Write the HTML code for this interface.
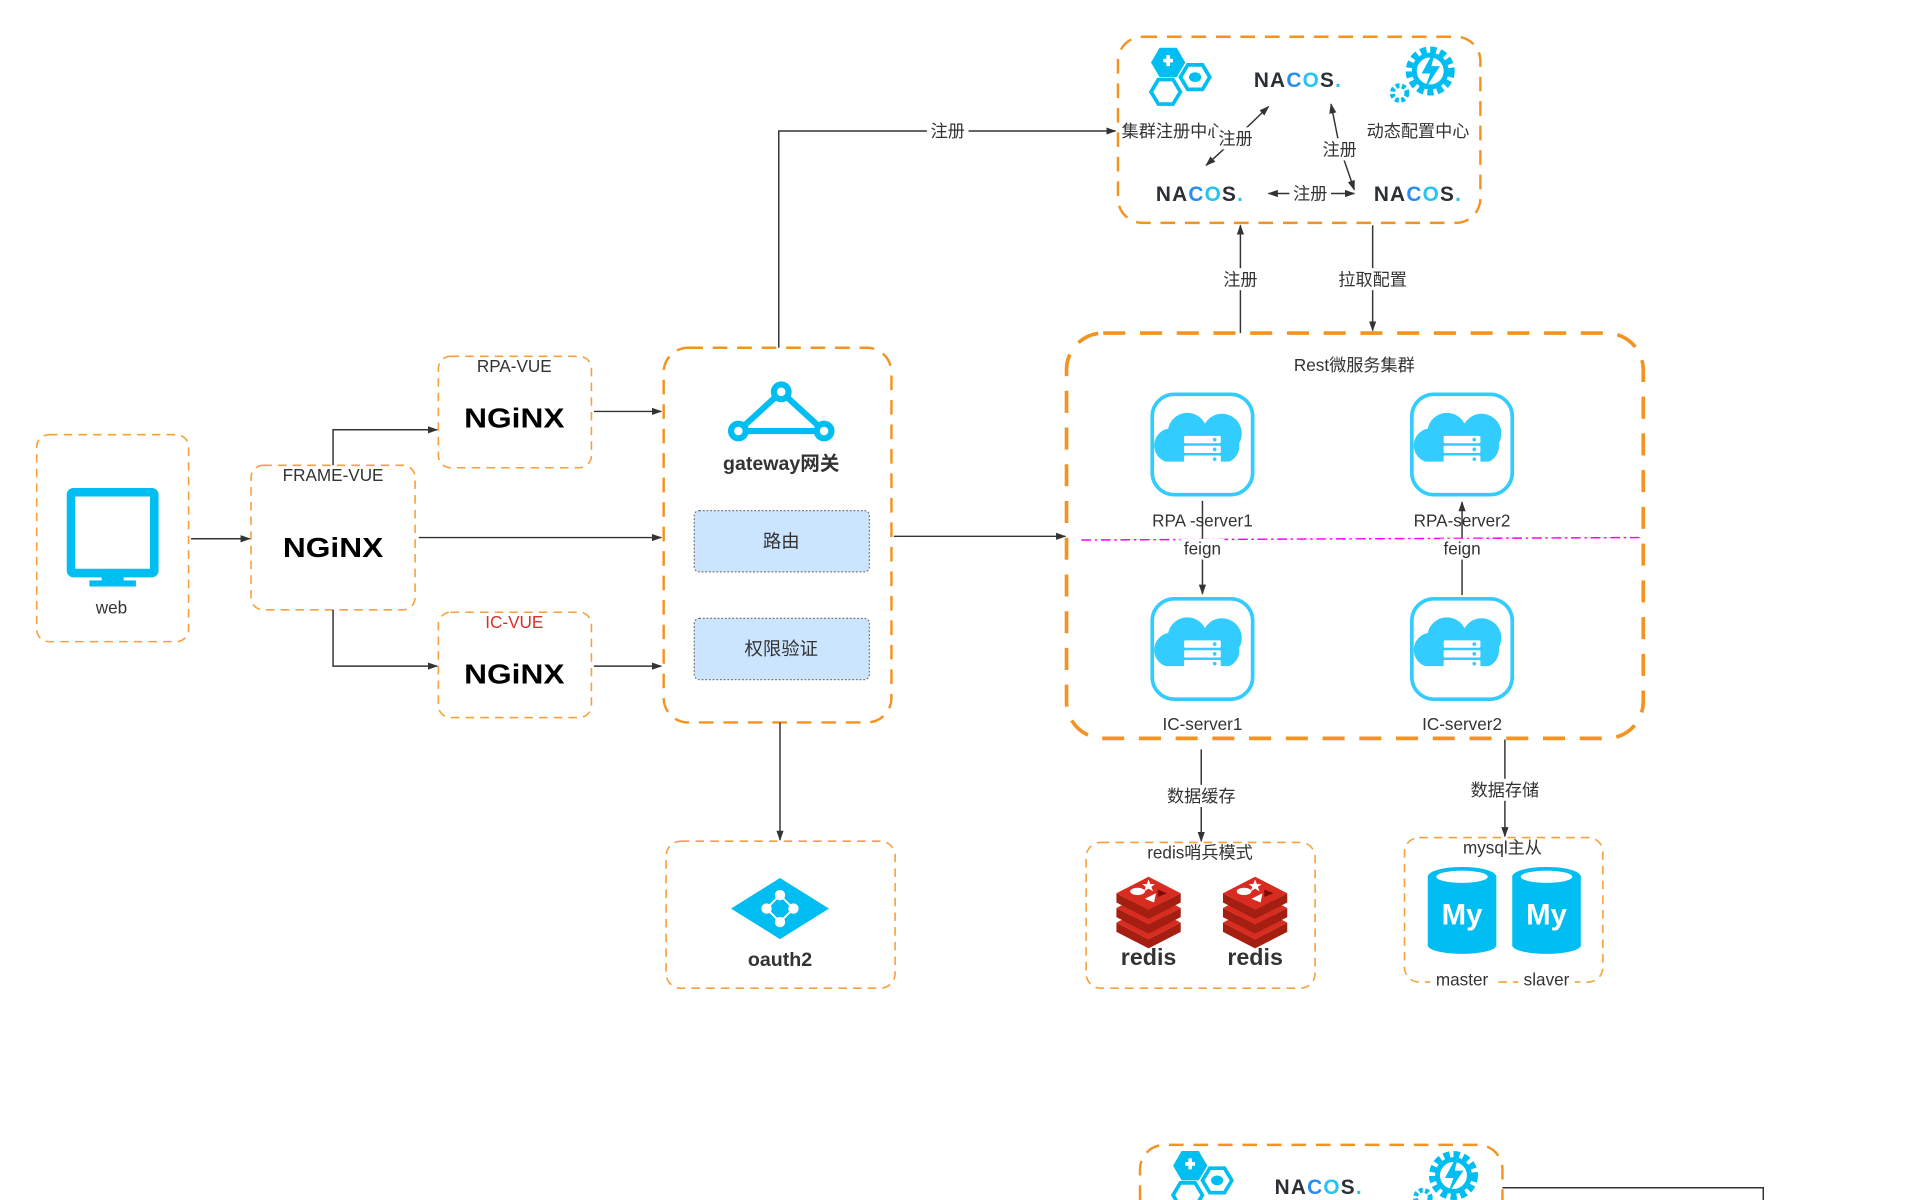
<!DOCTYPE html>
<html><head><meta charset="utf-8"><style>
html,body{margin:0;padding:0;background:#fff;width:1920px;height:1200px;overflow:hidden;}
svg{display:block}
text{font-family:"Liberation Sans","Noto Sans CJK SC",sans-serif;fill:#333;}
</style></head><body>
<svg width="1920" height="1200" viewBox="0 0 1568 980" preserveAspectRatio="none" xmlns="http://www.w3.org/2000/svg">
<defs>
<clipPath id="cl"><rect x="0" y="0" width="1568" height="980"/></clipPath>
<marker id="a" viewBox="0 0 10 10" refX="9" refY="5" markerWidth="7" markerHeight="7" orient="auto-start-reverse"><path d="M0,1.5 L10,5 L0,8.5 Z" fill="#333"/></marker>
<g id="srv">
 <rect x="-41" y="-41" width="82" height="82" rx="18" fill="#fff" stroke="#33ccff" stroke-width="3"/>
 <path d="M-30,14 a14,14 0 0 1 2,-27 a16,16 0 0 1 30,-4 a14,14 0 0 1 28,16 a14,14 0 0 1 -8,15 Z" fill="#33ccff"/>
 <g fill="#fff"><rect x="-15" y="-7" width="30" height="6" rx="1"/><rect x="-15" y="1" width="30" height="6" rx="1"/><rect x="-15" y="9" width="30" height="6" rx="1"/></g>
 <g fill="#33ccff"><circle cx="10" cy="-4" r="1.5"/><circle cx="10" cy="4" r="1.5"/><circle cx="10" cy="12" r="1.5"/></g>
</g>
<g id="nacos"><text x="0" y="0" text-anchor="middle" font-size="17" font-weight="bold" letter-spacing="1" style="fill:#2b2f36">NA<tspan style="fill:#2a8bf0">C</tspan><tspan style="fill:#27c3f3">O</tspan>S<tspan style="fill:#27c3f3">.</tspan></text></g>
<g id="hex">
 <polygon points="-20,-14 -13,-26 1,-26 8,-14 1,-2 -13,-2" fill="#00bdf2"/>
 <rect x="-10" y="-17" width="8" height="3" fill="#fff"/><rect x="-7.5" y="-20" width="3" height="9" fill="#fff"/>
 <polygon points="4,-2 10,-12 22,-12 28,-2 22,8 10,8" fill="#fff" stroke="#00bdf2" stroke-width="3"/>
 <ellipse cx="16" cy="-2" rx="5" ry="4" fill="#00bdf2"/>
 <polygon points="-20,10 -14,0 -2,0 4,10 -2,20 -14,20" fill="#fff" stroke="#00bdf2" stroke-width="3"/>
</g>
<g id="gear">
 <circle cx="5" cy="-6" r="17" fill="none" stroke="#00bdf2" stroke-width="6" stroke-dasharray="5 3"/>
 <circle cx="5" cy="-6" r="13" fill="none" stroke="#00bdf2" stroke-width="4"/>
 <path d="M10,-26 L-2,-4 L5,-4 L0,10 L13,-10 L6,-10 Z" fill="#00bdf2"/>
 <circle cx="-20" cy="12" r="6" fill="none" stroke="#00bdf2" stroke-width="4" stroke-dasharray="3 2"/>
</g>
<g id="redis">
 <path d="M-35,22 L0,40 L35,22 L35,32 L0,50 L-35,32 Z" fill="#a41e11"/>
 <path d="M-35,22 L0,4 L35,22 L0,40 Z" fill="#d82c20"/>
 <path d="M-35,6 L0,24 L35,6 L35,16 L0,34 L-35,16 Z" fill="#a41e11"/>
 <path d="M-35,6 L0,-12 L35,6 L0,24 Z" fill="#d82c20"/>
 <path d="M-35,-10 L0,8 L35,-10 L35,0 L0,18 L-35,0 Z" fill="#a41e11"/>
 <path d="M-35,-10 L0,-28 L35,-10 L0,8 Z" fill="#d82c20"/>
 <ellipse cx="-12" cy="-12" rx="8" ry="4" fill="#fff"/>
 <polygon points="0,-25 2,-20 7,-20 3,-17 5,-12 0,-15 -5,-12 -3,-17 -7,-20 -2,-20" fill="#fff"/>
 <polygon points="10,-14 20,-10 10,-6" fill="#7a0c05"/>
 <polygon points="-4,-4 8,-10 6,0" fill="#fff"/>
</g>
<g id="my">
 <rect x="-28" y="-27" width="56" height="56" fill="#00bdf2"/>
 <ellipse cx="0" cy="29" rx="28" ry="7" fill="#00bdf2"/>
 <ellipse cx="0" cy="-27" rx="28" ry="8" fill="#00bdf2"/>
 <ellipse cx="0" cy="-27" rx="21" ry="5" fill="#fff"/>
 <text x="0" y="12" text-anchor="middle" font-size="24" font-weight="bold" style="fill:#fff">My</text>
</g>
</defs>
<g clip-path="url(#cl)">
<g fill="none" stroke="#f7a03c" stroke-width="1.3" stroke-dasharray="7 5">
 <rect x="30" y="355" width="124" height="169" rx="10"/>
 <rect x="205" y="380" width="134" height="118" rx="10"/>
 <rect x="358" y="291" width="125" height="91" rx="10"/>
 <rect x="358" y="500" width="125" height="86" rx="10"/>
 <rect x="544" y="687" width="187" height="120" rx="12"/>
 <rect x="887" y="688" width="187" height="119" rx="12"/>
 <rect x="1147" y="684" width="162" height="118" rx="12"/>
</g>
<g fill="none" stroke="#f39422" stroke-width="2" stroke-dasharray="12 8">
 <rect x="542" y="284" width="186" height="306" rx="20"/>
 <rect x="913" y="30" width="296" height="152" rx="20"/>
 <path d="M931,980 V955 A20,20 0 0 1 951,935 H1207 A20,20 0 0 1 1227,955 V980"/>
</g>
<rect x="871" y="272" width="471" height="331" rx="30" fill="none" stroke="#f39422" stroke-width="3" stroke-dasharray="18 12"/>

<rect x="58" y="402" width="68" height="66" fill="#fff" stroke="#00bdf2" stroke-width="7" rx="2"/>
<rect x="83" y="468" width="18" height="8" fill="#00bdf2"/><rect x="73" y="474" width="38" height="5" fill="#00bdf2"/>
<text x="91" y="501" text-anchor="middle" font-size="14">web</text>

<text x="272" y="393" text-anchor="middle" font-size="14">FRAME-VUE</text>
<text x="420" y="304" text-anchor="middle" font-size="14">RPA-VUE</text>
<text x="420" y="513" text-anchor="middle" font-size="14" style="fill:#d9302c">IC-VUE</text>
<g font-size="23" font-weight="bold" text-anchor="middle">
<text x="272" y="455" textLength="82" lengthAdjust="spacingAndGlyphs" style="fill:#000">NGiNX</text>
<text x="420" y="349" textLength="82" lengthAdjust="spacingAndGlyphs" style="fill:#000">NGiNX</text>
<text x="420" y="558" textLength="82" lengthAdjust="spacingAndGlyphs" style="fill:#000">NGiNX</text>
</g>

<g stroke="#333" stroke-width="1.2" fill="none" marker-end="url(#a)">
 <path d="M156,440 H204"/>
 <path d="M272,380 V351 H357"/>
 <path d="M272,498 V544 H357"/>
 <path d="M342,439 L540,439"/>
 <path d="M485,336 H540"/>
 <path d="M485,544 H540"/>
 <path d="M636,284 V107 H911"/>
 <path d="M730,438 H870"/>
 <path d="M637,590 V686"/>
 <path d="M1013,272 V184"/>
 <path d="M1121,184 V270"/>
 <path d="M982,409 V485"/>
 <path d="M1194,486 V410"/>
 <path d="M981,612 V687"/>
 <path d="M1229,604 V683"/>
 <path d="M1008,114 L1036,87"/><path d="M1008,114 L985,135"/>
 <path d="M1094,120 L1087,85"/><path d="M1094,120 L1106,155"/>
 <path d="M1070,158 L1036,158"/><path d="M1070,158 L1106,158"/>
</g>
<path d="M1227,970 H1440 V980" stroke="#333" stroke-width="1.2" fill="none"/>

<g stroke="#00bdf2" stroke-width="5" fill="#fff">
 <path d="M638,320 L603,352 L673,352 Z" fill="none"/>
 <circle cx="638" cy="320" r="6"/><circle cx="603" cy="352" r="6"/><circle cx="673" cy="352" r="6"/>
</g>
<text x="638" y="384" text-anchor="middle" font-size="16" font-weight="bold">gateway网关</text>
<rect x="567" y="417" width="143" height="50" rx="4" fill="#cce5ff" stroke="#777" stroke-dasharray="1.5 1.5"/>
<rect x="567" y="505" width="143" height="50" rx="4" fill="#cce5ff" stroke="#777" stroke-dasharray="1.5 1.5"/>
<text x="638" y="447" text-anchor="middle" font-size="15">路由</text>
<text x="638" y="535" text-anchor="middle" font-size="15">权限验证</text>

<polygon points="637,717 677,742 637,767 597,742" fill="#00bdf2"/>
<g stroke="#fff" stroke-width="1.5" fill="#fff"><path d="M637,731 L648,742 L637,753 L626,742 Z" fill="none"/><circle cx="637" cy="731" r="3.5"/><circle cx="648" cy="742" r="3.5"/><circle cx="637" cy="753" r="3.5"/><circle cx="626" cy="742" r="3.5"/></g>
<text x="637" y="789" text-anchor="middle" font-size="16" font-weight="bold">oauth2</text>

<g font-size="14" text-anchor="middle">
 <rect x="757" y="98" width="34" height="18" fill="#fff"/><text x="774" y="112">注册</text>
 <rect x="996" y="219" width="34" height="18" fill="#fff"/><text x="1013" y="233">注册</text>
 <rect x="1089" y="219" width="64" height="18" fill="#fff"/><text x="1121" y="233">拉取配置</text>
 <rect x="948" y="641" width="66" height="18" fill="#fff"/><text x="981" y="655">数据缓存</text>
 <rect x="1196" y="636" width="66" height="18" fill="#fff"/><text x="1229" y="650">数据存储</text>
</g>

<use href="#hex" x="960" y="65"/>
<use href="#nacos" x="1060" y="71"/>
<use href="#gear" x="1163" y="64"/>
<use href="#nacos" x="980" y="164"/>
<use href="#nacos" x="1158" y="164"/>
<g font-size="14" text-anchor="middle">
 <text x="958" y="112">集群注册中心</text>
 <text x="1158" y="112">动态配置中心</text>
 <rect x="992" y="104" width="34" height="18" fill="#fff"/><text x="1009" y="118">注册</text>
 <rect x="1077" y="113" width="34" height="18" fill="#fff"/><text x="1094" y="127">注册</text>
 <rect x="1053" y="149" width="34" height="18" fill="#fff"/><text x="1070" y="163">注册</text>
</g>

<text x="1106" y="303" text-anchor="middle" font-size="14">Rest微服务集群</text>
<line x1="883" y1="441" x2="1342" y2="439" stroke="#f0f" stroke-width="1.2" stroke-dasharray="8 3 2 3"/>
<use href="#srv" x="982" y="363"/><use href="#srv" x="1194" y="363"/>
<use href="#srv" x="982" y="530"/><use href="#srv" x="1194" y="530"/>
<g font-size="14" text-anchor="middle">
 <text x="982" y="430">RPA -server1</text><text x="1194" y="430">RPA-server2</text>
 <text x="982" y="596">IC-server1</text><text x="1194" y="596">IC-server2</text>
 <rect x="964" y="440" width="36" height="17" fill="#fff"/><text x="982" y="453">feign</text>
 <rect x="1176" y="440" width="36" height="17" fill="#fff"/><text x="1194" y="453">feign</text>
</g>

<text x="980" y="701" text-anchor="middle" font-size="14">redis哨兵模式</text>
<g transform="translate(938,737) scale(0.75)"><use href="#redis"/></g>
<g transform="translate(1025,737) scale(0.75)"><use href="#redis"/></g>
<text x="938" y="788" text-anchor="middle" font-size="19" font-weight="bold">redis</text>
<text x="1025" y="788" text-anchor="middle" font-size="19" font-weight="bold">redis</text>

<text x="1227" y="697" text-anchor="middle" font-size="14">mysql主从</text>
<use href="#my" x="1194" y="743"/><use href="#my" x="1263" y="743"/>
<rect x="1168" y="793" width="52" height="14" fill="#fff"/><rect x="1240" y="793" width="46" height="14" fill="#fff"/>
<text x="1194" y="805" text-anchor="middle" font-size="14">master</text>
<text x="1263" y="805" text-anchor="middle" font-size="14">slaver</text>

<use href="#hex" x="978" y="966"/>
<use href="#nacos" x="1077" y="975"/>
<use href="#gear" x="1182" y="966"/>
</g>
</svg>
</body></html>
